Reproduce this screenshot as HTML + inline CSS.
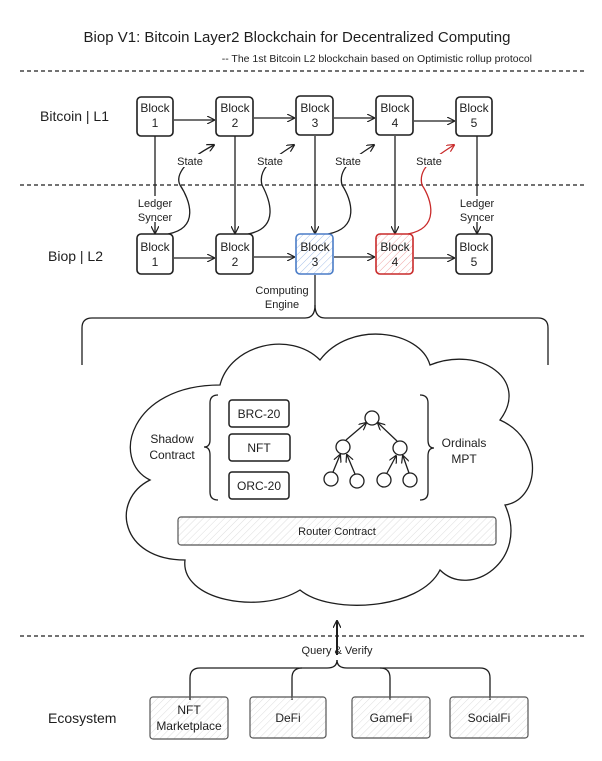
<!DOCTYPE html>
<html><head><meta charset="utf-8"><style>
body{margin:0;background:#fff}
svg text{font-family:"Liberation Sans",sans-serif;fill:#1e1e1e}
</style></head><body>
<svg width="602" height="756" viewBox="0 0 602 756" xmlns="http://www.w3.org/2000/svg">
<defs>
<marker id="a" markerWidth="8" markerHeight="8" refX="7" refY="4" orient="auto" markerUnits="userSpaceOnUse"><path d="M0,0 L8,4 L0,8" fill="none" stroke="#1e1e1e" stroke-width="1.2"/></marker>
<marker id="ar" markerWidth="8" markerHeight="8" refX="7" refY="4" orient="auto" markerUnits="userSpaceOnUse"><path d="M0,0 L8,4 L0,8" fill="none" stroke="#c92a2a" stroke-width="1.2"/></marker>
<pattern id="hb" width="5" height="5" patternUnits="userSpaceOnUse" patternTransform="rotate(45)"><line x1="0" y1="0" x2="0" y2="5" stroke="#a5c0e8" stroke-width="1"/></pattern>
<pattern id="hr" width="5" height="5" patternUnits="userSpaceOnUse" patternTransform="rotate(45)"><line x1="0" y1="0" x2="0" y2="5" stroke="#f0a8a8" stroke-width="1"/></pattern>
<pattern id="hg" width="5" height="5" patternUnits="userSpaceOnUse" patternTransform="rotate(45)"><line x1="0" y1="0" x2="0" y2="5" stroke="#ddd" stroke-width="1"/></pattern>
</defs>
<text x="297" y="42" font-size="15" text-anchor="middle">Biop V1: Bitcoin Layer2 Blockchain for Decentralized Computing</text>
<text x="532" y="62" font-size="10.5" text-anchor="end">-- The 1st Bitcoin L2 blockchain based on Optimistic rollup protocol</text>
<g stroke="#1e1e1e" stroke-width="1.2" stroke-dasharray="4,3">
<line x1="20" y1="71" x2="585" y2="71"/><line x1="20" y1="185" x2="585" y2="185"/><line x1="20" y1="636" x2="585" y2="636"/>
</g>
<text x="40" y="121" font-size="14">Bitcoin | L1</text>
<text x="48" y="261" font-size="14">Biop | L2</text>
<g fill="none" stroke="#1e1e1e" stroke-width="1.3">
<!-- vertical -->
<line x1="155" y1="136" x2="155" y2="196"/>
<line x1="155" y1="222" x2="155" y2="233" marker-end="url(#a)"/>
<line x1="235" y1="136" x2="235" y2="233" marker-end="url(#a)"/>
<line x1="315" y1="136" x2="315" y2="233" marker-end="url(#a)"/>
<line x1="395" y1="136" x2="395" y2="233" marker-end="url(#a)"/>
<line x1="477" y1="136" x2="477" y2="196"/>
<line x1="477" y1="222" x2="477" y2="233" marker-end="url(#a)"/>
<!-- horizontal L1 -->
<line x1="174" y1="120" x2="214" y2="120" marker-end="url(#a)"/>
<line x1="254" y1="118" x2="294" y2="118" marker-end="url(#a)"/>
<line x1="334" y1="118" x2="374" y2="118" marker-end="url(#a)"/>
<line x1="414" y1="121" x2="454" y2="121" marker-end="url(#a)"/>
<line x1="174" y1="258" x2="214" y2="258" marker-end="url(#a)"/>
<line x1="254" y1="257" x2="294" y2="257" marker-end="url(#a)"/>
<line x1="334" y1="257" x2="374" y2="257" marker-end="url(#a)"/>
<line x1="414" y1="258" x2="454" y2="258" marker-end="url(#a)"/>
<!-- state curves -->
<path d="M168,234 C200,228 190,200 180,185 C175,175 185,160 214,145" marker-end="url(#a)"/>
<path d="M248,234 C280,228 270,200 262,185 C258,170 270,160 294,145" marker-end="url(#a)"/>
<path d="M328,234 C360,228 352,200 342,185 C338,170 350,160 374,145" marker-end="url(#a)"/>
<path d="M408,234 C440,228 432,200 422,185 C418,170 430,160 454,145" stroke="#c92a2a" marker-end="url(#ar)"/>
</g>
<g font-size="11" text-anchor="middle">
<rect x="170" y="154" width="40" height="13" fill="#fff"/><text x="190" y="165">State</text>
<rect x="250" y="154" width="40" height="13" fill="#fff"/><text x="270" y="165">State</text>
<rect x="328" y="154" width="40" height="13" fill="#fff"/><text x="348" y="165">State</text>
<rect x="409" y="154" width="40" height="13" fill="#fff"/><text x="429" y="165">State</text>
<text x="155" y="207">Ledger</text><text x="155" y="221">Syncer</text>
<text x="477" y="207">Ledger</text><text x="477" y="221">Syncer</text>
<text x="282" y="294">Computing</text><text x="282" y="308">Engine</text>
</g>
<!-- blocks -->
<g stroke="#1e1e1e" stroke-width="1.6" fill="#fff">
<rect x="137" y="97" width="36" height="39" rx="4"/>
<rect x="216" y="97" width="37" height="39" rx="4"/>
<rect x="296" y="96" width="37" height="39" rx="4"/>
<rect x="376" y="96" width="37" height="39" rx="4"/>
<rect x="456" y="97" width="36" height="39" rx="4"/>
<rect x="137" y="234" width="36" height="40" rx="4"/>
<rect x="216" y="234" width="37" height="40" rx="4"/>
<rect x="296" y="234" width="37" height="40" rx="4" fill="url(#hb)" stroke="#4a7cc7"/>
<rect x="376" y="234" width="37" height="40" rx="4" fill="url(#hr)" stroke="#c92a2a"/>
<rect x="456" y="234" width="36" height="40" rx="4"/>
</g>
<g font-size="12" text-anchor="middle">
<text x="155" y="112">Block</text><text x="155" y="127">1</text>
<text x="235" y="112">Block</text><text x="235" y="127">2</text>
<text x="315" y="112">Block</text><text x="315" y="127">3</text>
<text x="395" y="112">Block</text><text x="395" y="127">4</text>
<text x="474" y="112">Block</text><text x="474" y="127">5</text>
<text x="155" y="251">Block</text><text x="155" y="266">1</text>
<text x="235" y="251">Block</text><text x="235" y="266">2</text>
<text x="315" y="251">Block</text><text x="315" y="266">3</text>
<text x="395" y="251">Block</text><text x="395" y="266">4</text>
<text x="474" y="251">Block</text><text x="474" y="266">5</text>
</g>
<g fill="none" stroke="#1e1e1e" stroke-width="1.3">
<path d="M315,275 L315,305 Q315,318 305,318 L92,318 Q82,318 82,328 L82,365"/>
<path d="M315,305 Q315,318 325,318 L538,318 Q548,318 548,328 L548,365"/>
<!-- cloud -->
<path d="M220,385 C230,345 290,330 320,360 C350,320 420,330 430,365 C480,345 530,380 500,420 C545,440 540,500 505,505 C530,560 470,600 440,570 C420,610 330,615 300,590 C260,615 180,600 185,560 C120,560 110,500 150,480 C110,460 130,385 220,385 Z"/>
<!-- left brace -->
<path d="M218,395 Q210,395 210,403 L210,440 Q210,447 204,447 Q210,447 210,455 L210,492 Q210,500 218,500"/>
<path d="M420,395 Q428,395 428,403 L428,440 Q428,448 434,448 Q428,448 428,456 L428,492 Q428,500 420,500"/>
<!-- tree -->
<circle cx="372" cy="418" r="7"/>
<circle cx="343" cy="447" r="7"/><circle cx="400" cy="448" r="7"/>
<circle cx="331" cy="479" r="7"/><circle cx="357" cy="481" r="7"/><circle cx="384" cy="480" r="7"/><circle cx="410" cy="480" r="7"/>
<line x1="346" y1="440" x2="366" y2="423" marker-end="url(#a)"/>
<line x1="397" y1="441" x2="378" y2="423" marker-end="url(#a)"/>
<line x1="333" y1="472" x2="340" y2="455" marker-end="url(#a)"/>
<line x1="355" y1="474" x2="347" y2="455" marker-end="url(#a)"/>
<line x1="387" y1="473" x2="396" y2="456" marker-end="url(#a)"/>
<line x1="409" y1="473" x2="403" y2="456" marker-end="url(#a)"/>
</g>
<g stroke="#1e1e1e" stroke-width="1.5" fill="#fff">
<rect x="229" y="400" width="60" height="27" rx="3"/>
<rect x="229" y="434" width="61" height="27" rx="3"/>
<rect x="229" y="472" width="60" height="27" rx="3"/>
</g>
<rect x="178" y="517" width="318" height="28" rx="3" fill="url(#hg)" stroke="#555" stroke-width="1.2"/>
<g font-size="12" text-anchor="middle">
<text x="259" y="418">BRC-20</text><text x="259" y="452">NFT</text><text x="259" y="490">ORC-20</text>
<text x="172" y="443">Shadow</text><text x="172" y="459">Contract</text>
<text x="464" y="447">Ordinals</text><text x="464" y="463">MPT</text>
<text x="337" y="535" font-size="11">Router Contract</text>
</g>
<!-- ecosystem -->
<g fill="none" stroke="#1e1e1e" stroke-width="1.3">
<line x1="337" y1="655" x2="337" y2="621" stroke-width="2" marker-end="url(#a)"/>
<path d="M337,660 Q337,668 327,668 L200,668 Q190,668 190,678 L190,700"/>
<path d="M337,660 Q337,668 347,668 L480,668 Q490,668 490,678 L490,700"/>
<path d="M292,700 L292,678 Q292,668 302,668"/>
<path d="M390,700 L390,678 Q390,668 380,668"/>
</g>
<g stroke="#555" stroke-width="1.2" fill="url(#hg)">
<rect x="150" y="697" width="78" height="42" rx="3"/>
<rect x="250" y="697" width="76" height="41" rx="3"/>
<rect x="352" y="697" width="78" height="41" rx="3"/>
<rect x="450" y="697" width="78" height="41" rx="3"/>
</g>
<g font-size="12" text-anchor="middle">
<text x="337" y="654" font-size="11">Query &amp; Verify</text>
<text x="189" y="714">NFT</text><text x="189" y="730">Marketplace</text>
<text x="288" y="722">DeFi</text><text x="391" y="722">GameFi</text><text x="489" y="722">SocialFi</text>
</g>
<text x="48" y="723" font-size="14">Ecosystem</text>
</svg>
</body></html>
